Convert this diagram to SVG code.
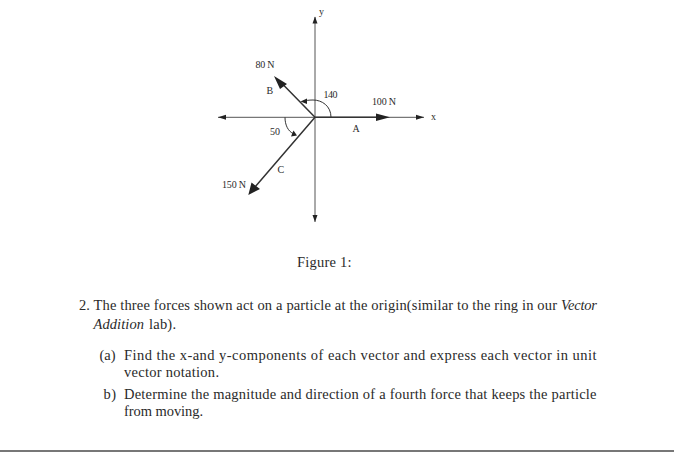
<svg xmlns="http://www.w3.org/2000/svg" width="674" height="452" viewBox="0 0 674 452">
<style>
.ax{stroke:#555;stroke-width:1;fill:none}
.fv{stroke:#333;stroke-width:1.5;fill:none}
.arc{stroke:#333;stroke-width:1;fill:none}
.hd{fill:#222;stroke:none}
text{font-family:"Liberation Serif","Times New Roman",serif;fill:#2a2a2a}
.s{font-size:10px}
.b{font-size:14.500px}
.i{font-style:italic}
</style>
<rect width="674" height="452" fill="#fff"/>
<g id="connectors">
<path class="ax" d="M218 117.300H424M315 17V222"/>
<path class="hd" d="M218 117.300l8-2.500v5zM424 117.300l-8-2.500v5zM315 16.500l-2.500 7h5zM315 222l-2.500-7h5z"/>
<path class="fv" d="M315 117.300H380M315 117.300L282 83.500M315 117.300L255 187"/>
<path class="hd" d="M390 117.300L376 113.500v7.600zM274 76L287 84L280 89zM248.300 195L251.500 182.500L260 189z"/>
<path class="arc" d="M331 117.300C331 106 322 100 313 100C309 100 305 100.500 303 101.500"/>
<path class="hd" d="M300.500 101.500L307 98.500L307 104z"/>
<path class="arc" d="M285 117.300C285 125 288 131 293 133.500"/>
<path class="hd" d="M297 135.500L291 136.500L293.500 130.500z"/>
</g>
<g id="node-y"><text class="s" x="319" y="15">y</text></g>
<g id="node-x"><text class="s" x="431" y="120">x</text></g>
<g id="node-a"><text class="s" x="352.500" y="132">A</text><text class="s" x="372" y="105" textLength="24">100 N</text></g>
<g id="node-b"><text class="s" x="266.500" y="94">B</text><text class="s" x="255.500" y="67.500" textLength="19">80 N</text></g>
<g id="node-c"><text class="s" x="277.500" y="172.500">C</text><text class="s" x="222" y="187.500" textLength="24">150 N</text></g>
<g id="angle-140"><text class="s" x="323.500" y="98" textLength="14">140</text></g>
<g id="angle-50"><text class="s" x="270" y="135" textLength="10">50</text></g>
<g id="caption"><text class="b" x="297" y="266.500" textLength="54.500">Figure 1:</text></g>
<g id="question">
<text class="b" x="79" y="310">2.</text>
<text class="b" x="93.500" y="310" textLength="463.500">The three forces shown act on a particle at the origin(similar to the ring in our</text>
<text class="b i" x="561" y="310" textLength="36">Vector</text>
<text class="b i" x="93.500" y="328.500" textLength="50.500">Addition</text>
<text class="b" x="149" y="328.500" textLength="27">lab).</text>
<text class="b" x="99.500" y="359.500" textLength="16">(a)</text>
<text class="b" x="124" y="359.500" textLength="472.500">Find the x-and y-components of each vector and express each vector in unit</text>
<text class="b" x="124" y="377" textLength="95">vector notation.</text>
<text class="b" x="103.500" y="399" textLength="12.500">b)</text>
<text class="b" x="124" y="399" textLength="472.500">Determine the magnitude and direction of a fourth force that keeps the particle</text>
<text class="b" x="124" y="416" textLength="79">from moving.</text>
</g>
<rect id="rule" x="0" y="450" width="674" height="2" fill="#777"/>
</svg>
